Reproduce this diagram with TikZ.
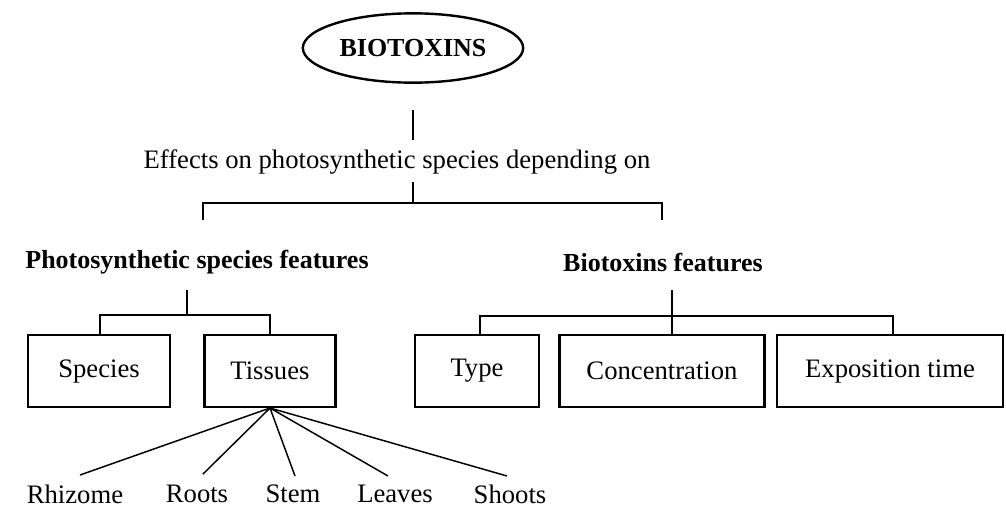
\documentclass[tikz,border=0pt]{standalone}
\usepackage{fontspec}
\setmainfont{Liberation Serif}
\usetikzlibrary{shapes.geometric}
\begin{document}
\begin{tikzpicture}[x=0.75pt,y=-0.75pt,
  box/.style={draw,line width=1.8pt,minimum width=#1*0.75pt,minimum height=54pt,inner sep=0pt,font=\fontsize{20}{24}\selectfont},
  lbl/.style={inner sep=1pt,font=\fontsize{20}{24}\selectfont},
  hd/.style={inner sep=1pt,font=\fontsize{19.5}{24}\selectfont\bfseries},
  ln/.style={line width=1.1pt}]
\useasboundingbox (0,0) rectangle (1006,512);
\node[ellipse,draw,line width=1.8pt,minimum width=150pt,minimum height=52pt,font=\fontsize{19.5}{24}\selectfont\bfseries] (bio) at (413,48) {BIOTOXINS};
\node[lbl] (eff) at (397,162) {Effects on photosynthetic species depending on};
\node[hd] (psf) at (197,262) {Photosynthetic species features};
\node[hd] (bf) at (663,262) {Biotoxins features};
\node[box=142] (sp) at (99,371) {Species};
\node[box=131] (ti) at (270,371) {Tissues};
\node[box=124] (ty) at (477,371) {Type};
\node[box=205] (co) at (662,371) {Concentration};
\node[box=226] (ex) at (890,371) {Exposition time};
\coordinate (e1) at (413,110); \coordinate (e2) at (413,140);
\draw[ln] (e1) -- (e2);
\coordinate (f1) at (413,182);
\draw[ln] (f1) -- (413,203) (203,220) -- (203,203) -- (662,203) -- (662,220);
\draw[ln] (187,290) -- (187,315) (100,335) -- (100,315) -- (270,315) -- (270,335);
\draw[ln] (672,290) -- (672,316) (480,335) -- (480,316) -- (893,316) -- (893,335) (672,316) -- (672,335);
\coordinate (o) at (270,408);
\node[lbl] (rh) at (75,494) {Rhizome};
\node[lbl] (ro) at (197,494) {Roots};
\node[lbl] (st) at (293,494) {Stem};
\node[lbl] (le) at (395,494) {Leaves};
\node[lbl] (sh) at (510,494) {Shoots};
\draw[ln] (o) -- (80,475) (o) -- (203,474) (o) -- (295,476) (o) -- (388,476) (o) -- (507,476);
\end{tikzpicture}
\end{document}
